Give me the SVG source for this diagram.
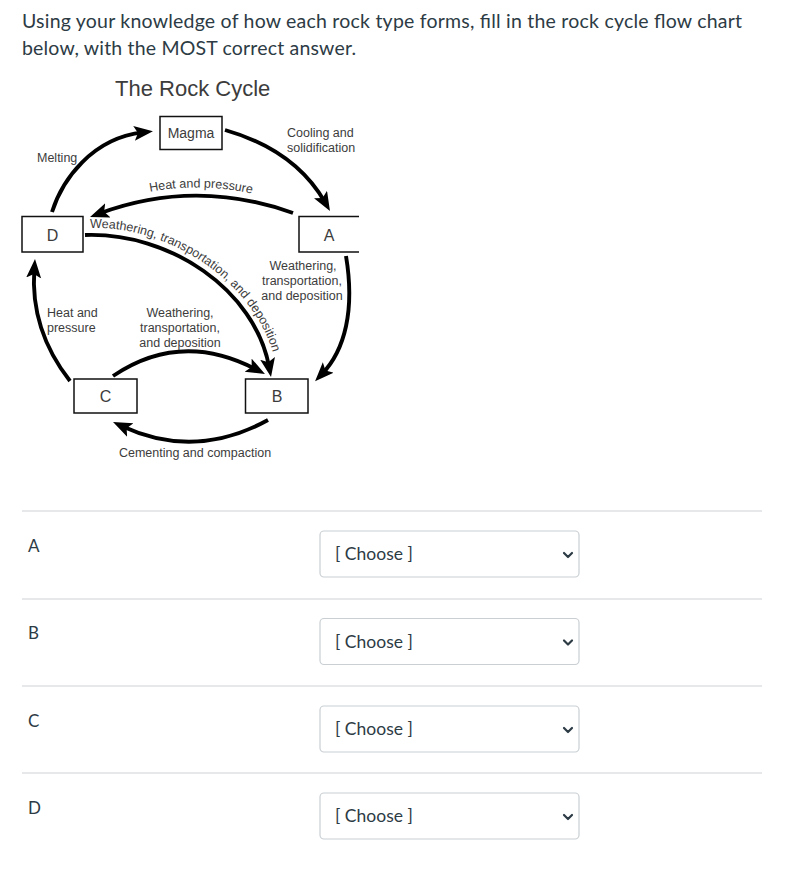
<svg xmlns="http://www.w3.org/2000/svg" width="787" height="881" viewBox="0 0 787 881">
<style>
.page{font-family:Lato,"Open Sans","Liberation Sans",sans-serif;fill:#2d3b45}
.dg{font-family:"Liberation Sans",Arial,sans-serif;fill:#3c3c3c}
.lbl{font-size:12.5px}
.box{fill:#fff;stroke:#111;stroke-width:1.5}
.arr{fill:none;stroke:#000;stroke-width:3.9;marker-end:url(#ah)}
.sep{stroke:#e6e8ea;stroke-width:2}
.sel{fill:#fff;stroke:#c9cfd3;stroke-width:1.2}
.chev{fill:none;stroke:#2d3b45;stroke-width:2.2;stroke-linecap:round;stroke-linejoin:round}
</style>
<defs>
<marker id="ah" markerUnits="userSpaceOnUse" markerWidth="21" markerHeight="17" refX="9" refY="7.5" orient="auto">
<path d="M0,0 L19,7.5 L0,15 L4,7.5 z" fill="#000"/>
</marker>
<path id="tpHeat" d="M140,194 Q200,180 262,196"/>
<path id="tpDiag" d="M90,228 C172,225 262,287 276,366"/>
</defs>
<rect width="787" height="881" fill="#fff"/>

<g id="header" class="page" font-size="19.5">
<text x="22" y="28" textLength="720" lengthAdjust="spacing">Using your knowledge of how each rock type forms, fill in the rock cycle flow chart</text>
<text x="22" y="55" textLength="334" lengthAdjust="spacing">below, with the MOST correct answer.</text>
</g>

<text id="title" class="dg" x="115" y="96" font-size="22" fill="#333">The Rock Cycle</text>

<g id="connectors">
<path id="melting" class="arr" d="M52,212 C62,180 92,138 143,132.4"/>
<path id="cooling" class="arr" d="M225,130 Q295,150 325,202.3"/>
<path id="heatAD" class="arr" d="M293,213 Q195,178 99.4,213.5"/>
<path id="weathDB" class="arr" d="M85,235 C170,232 255,290 269.2,367.2"/>
<path id="weathAB" class="arr" d="M346,256 C355,310 345,350 322,374"/>
<path id="weathCB" class="arr" d="M113,376 Q181,330 256.1,369.4"/>
<path id="cementBC" class="arr" d="M268,420 Q195,460 122.1,426.2"/>
<path id="heatCD" class="arr" d="M70,381 Q30,330 34.3,269"/>
</g>

<g id="labels" class="dg lbl">
<text x="37" y="162">Melting</text>
<text x="287" y="137">Cooling and</text>
<text x="287" y="152">solidification</text>
<text><textPath href="#tpHeat" startOffset="50%" text-anchor="middle">Heat and pressure</textPath></text>
<text><textPath href="#tpDiag" startOffset="0">Weathering,</textPath></text>
<text><textPath href="#tpDiag" startOffset="71">transportation,</textPath></text>
<text><textPath href="#tpDiag" startOffset="154.5">and</textPath></text>
<text><textPath href="#tpDiag" startOffset="179">deposition</textPath></text>
<text x="303" y="269.5" text-anchor="middle">Weathering,</text>
<text x="302" y="284.5" text-anchor="middle">transportation,</text>
<text x="302" y="299.5" text-anchor="middle">and deposition</text>
<text x="47" y="317">Heat and</text>
<text x="47" y="332">pressure</text>
<text x="180" y="316.5" text-anchor="middle">Weathering,</text>
<text x="180" y="331.5" text-anchor="middle">transportation,</text>
<text x="180" y="346.5" text-anchor="middle">and deposition</text>
<text x="195" y="457" text-anchor="middle">Cementing and compaction</text>
</g>

<g id="node-magma">
<rect class="box" x="160" y="116.5" width="62" height="33"/>
<text class="dg" x="191" y="138" font-size="14" text-anchor="middle">Magma</text>
</g>
<g id="node-D">
<rect class="box" x="22" y="216.5" width="61" height="35.5"/>
<text class="dg" x="52.5" y="241" font-size="16" text-anchor="middle">D</text>
</g>
<g id="node-A">
<path d="M359,216.5 H299 V252 H359" fill="#fff" stroke="#111" stroke-width="1.5"/>
<text class="dg" x="329" y="241" font-size="16" text-anchor="middle">A</text>
</g>
<g id="node-C">
<rect class="box" x="74" y="379" width="63" height="34"/>
<text class="dg" x="105.5" y="402" font-size="16" text-anchor="middle">C</text>
</g>
<g id="node-B">
<rect class="box" x="245.5" y="379" width="62.5" height="34"/>
<text class="dg" x="277" y="402" font-size="16" text-anchor="middle">B</text>
</g>

<g id="form">
<line class="sep" x1="22" y1="511" x2="762" y2="511"/>
<line class="sep" x1="22" y1="599" x2="762" y2="599"/>
<line class="sep" x1="22" y1="686" x2="762" y2="686"/>
<line class="sep" x1="22" y1="773" x2="762" y2="773"/>

<g id="row-A">
<text class="page" x="28" y="552" font-size="17">A</text>
<rect class="sel" x="320" y="531" width="259" height="46" rx="4"/>
<text class="page" x="335" y="560" font-size="17.5">[ Choose ]</text>
<path class="chev" d="M564,553 l4,4 l4,-4"/>
</g>
<g id="row-B">
<text class="page" x="28" y="639" font-size="17">B</text>
<rect class="sel" x="320" y="618.5" width="259" height="46" rx="4"/>
<text class="page" x="335" y="647.5" font-size="17.5">[ Choose ]</text>
<path class="chev" d="M564,640.5 l4,4 l4,-4"/>
</g>
<g id="row-C">
<text class="page" x="28" y="727" font-size="17">C</text>
<rect class="sel" x="320" y="706" width="259" height="46" rx="4"/>
<text class="page" x="335" y="735" font-size="17.5">[ Choose ]</text>
<path class="chev" d="M564,728 l4,4 l4,-4"/>
</g>
<g id="row-D">
<text class="page" x="28" y="814" font-size="17">D</text>
<rect class="sel" x="320" y="793" width="259" height="46" rx="4"/>
<text class="page" x="335" y="822" font-size="17.5">[ Choose ]</text>
<path class="chev" d="M564,815 l4,4 l4,-4"/>
</g>
</g>
</svg>
